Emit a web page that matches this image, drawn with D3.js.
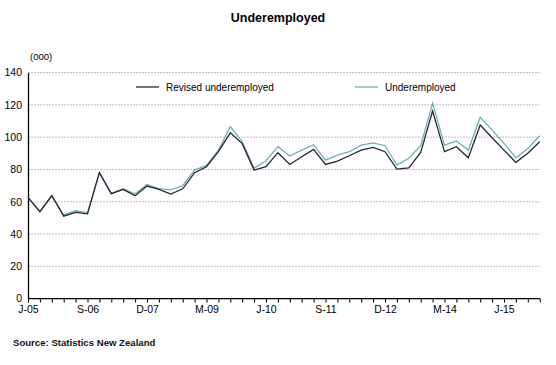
<!DOCTYPE html>
<html><head><meta charset="utf-8">
<script src="https://cdn.jsdelivr.net/npm/d3@7"></script>
<style>
html,body{margin:0;padding:0;background:#fff;}
svg{display:block;font-family:"Liberation Sans",Arial,sans-serif;}
</style></head><body>
<svg id="c" width="556" height="365"></svg>
<script>
const quarters = ["Jun-05","Sep-05","Dec-05","Mar-06","Jun-06","Sep-06","Dec-06","Mar-07","Jun-07","Sep-07",
"Dec-07","Mar-08","Jun-08","Sep-08","Dec-08","Mar-09","Jun-09","Sep-09","Dec-09","Mar-10",
"Jun-10","Sep-10","Dec-10","Mar-11","Jun-11","Sep-11","Dec-11","Mar-12","Jun-12","Sep-12",
"Dec-12","Mar-13","Jun-13","Sep-13","Dec-13","Mar-14","Jun-14","Sep-14","Dec-14","Mar-15",
"Jun-15","Sep-15","Dec-15","Mar-16"];
const revised = [62.7,53.8,63.7,51.1,53.4,52.5,78.0,65.0,67.7,63.7,
69.7,67.7,64.8,68.0,78.0,81.7,91.0,102.7,96.0,79.6,
81.7,90.4,83.1,87.9,92.4,83.1,85.2,88.5,92.0,93.7,
91.0,80.2,81.0,90.6,116.2,91.0,94.1,87.2,107.5,99.6,
92.0,84.4,90.0,97.2];
const underemployed = [62.7,53.8,63.7,51.8,54.4,53.3,78.0,65.0,67.9,64.9,
70.7,68.1,67.4,69.9,79.6,82.5,92.0,106.5,97.2,80.7,
85.4,94.1,88.3,92.0,95.3,85.8,88.9,91.0,95.1,96.5,
94.7,82.7,86.9,94.7,120.9,95.1,97.6,92.0,112.3,104.4,
96.2,87.2,93.0,100.9];
const yTicks = [0,20,40,60,80,100,120,140];
const tickQuarters = quarters.filter((d,i)=>i%5===0);

const svg = d3.select("#c");
const x = d3.scalePoint().domain(quarters).range([28,539.7]);
const y = d3.scaleLinear().domain([0,140]).range([298.6,72.6]);

// title
svg.append("text").attr("x",278).attr("y",22).attr("text-anchor","middle")
  .attr("font-size",12.5).attr("font-weight","bold").attr("fill","#000").text("Underemployed");
svg.append("text").attr("x",30).attr("y",60).attr("font-size",9.5).attr("fill","#000").text("(000)");

// gridlines
svg.append("g").selectAll("line").data(yTicks.filter(d=>d>0)).join("line")
  .attr("x1",28).attr("x2",540).attr("y1",d=>y(d)).attr("y2",d=>y(d))
  .attr("stroke","#c9b6cf").attr("stroke-width",1).attr("stroke-dasharray","2,1");

// y axis
const ya = svg.append("g").attr("transform","translate(28,0)")
  .call(d3.axisLeft(y).tickValues(yTicks).tickSize(0).tickPadding(6));
ya.select(".domain").attr("stroke","#000").attr("stroke-width",1.3);
ya.selectAll("text").attr("font-size",10.5).attr("fill","#000").attr("font-family","Liberation Sans, Arial, sans-serif");

// x axis
const xa = svg.append("g").attr("transform","translate(0,298.6)")
  .call(d3.axisBottom(x).tickValues(quarters).tickSize(4).tickPadding(3)
    .tickFormat(d => tickQuarters.includes(d) ? d[0] + d.slice(3) : ""));
xa.select(".domain").attr("stroke","#000").attr("stroke-width",1.3).attr("d","M28,0H540");
xa.selectAll(".tick line").attr("stroke","#000");
xa.selectAll("text").attr("font-size",10.5).attr("fill","#000").attr("font-family","Liberation Sans, Arial, sans-serif");

// lines
const line = d3.line().x((d,i)=>x(quarters[i])).y(d=>y(d));
svg.append("path").datum(underemployed).attr("d",line).attr("fill","none")
  .attr("stroke","#6fb0b4").attr("stroke-width",1.3);
svg.append("path").datum(revised).attr("d",line).attr("fill","none")
  .attr("stroke","#2a2533").attr("stroke-width",1.3);

// legend
const leg = [{name:"Revised underemployed",color:"#2a2533",x:136},{name:"Underemployed",color:"#6fb0b4",x:355}];
const lg = svg.append("g").selectAll("g").data(leg).join("g");
lg.append("line").attr("x1",d=>d.x).attr("x2",d=>d.x+23).attr("y1",87).attr("y2",87)
  .attr("stroke",d=>d.color).attr("stroke-width",1.3);
lg.append("text").attr("x",d=>d.x+30).attr("y",91).attr("font-size",10).attr("fill","#000").text(d=>d.name);

// source
svg.append("text").attr("x",13).attr("y",346).attr("font-size",9.6).attr("font-weight","bold")
  .attr("fill","#111").text("Source: Statistics New Zealand");
</script>
</body></html>
